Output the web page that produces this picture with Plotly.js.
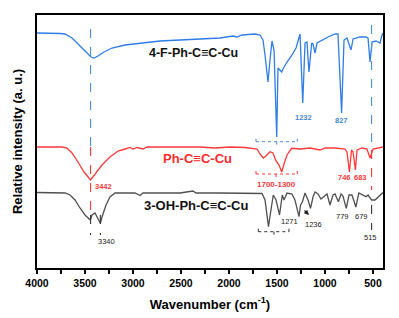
<!DOCTYPE html>
<html>
<head>
<meta charset="utf-8">
<script src="https://cdn.plot.ly/plotly-3.0.1.min.js"></script>
<style>
  html, body { margin: 0; padding: 0; background: #fff; }
  #chart { width: 399px; height: 318px; }
</style>
</head>
<body>
<div id="chart"></div>
<script>
// FTIR spectra, wavenumber (cm-1) vs relative intensity (a. u., offset)
var fWave = [4000, 3865, 3760, 3708, 3635, 3552, 3479, 3437, 3406, 3365, 3302, 3219, 3083, 2927, 2719, 2510,
  2302, 2094, 1958, 1917, 1865, 1729, 1677, 1646, 1625, 1594, 1573, 1560, 1552, 1531, 1503, 1490, 1469, 1451,
  1438, 1396, 1344, 1302, 1260, 1232, 1208, 1188, 1167, 1139, 1125, 1104, 1083, 1031, 969, 896, 865, 827,
  802, 771, 729, 708, 635, 573, 552, 531, 510, 469, 427, 406, 396];
var fInt = [235, 235, 234.5, 234, 230, 222, 215, 211, 210, 212, 216, 220, 223, 225, 227, 228,
  229, 230, 232, 231, 233, 234, 233, 228, 213, 186, 208, 226, 227, 218, 131, 200, 198, 196,
  199, 206, 213, 220, 234, 165, 225, 226, 196, 225, 224, 215, 225, 228, 231, 234, 234, 155,
  228, 230, 218, 229, 231, 231, 230, 206, 226, 227, 225, 233, 235];

var hWave = [4000, 3865, 3740, 3688, 3635, 3573, 3510, 3442, 3396, 3323, 3240, 3156, 3083, 3031, 3000, 2958,
  2896, 2854, 2615, 2302, 2146, 1990, 1833, 1760, 1708, 1677, 1643, 1615, 1573, 1542, 1510, 1479, 1451,
  1427, 1396, 1347, 1260, 1156, 1052, 1000, 896, 792, 771, 746, 724, 708, 683, 667, 615, 563, 531, 500,
  448, 396];
var hInt = [121, 121, 121, 120, 115, 106, 96, 88, 94, 103, 111, 117, 119, 120.5, 119, 120.5,
  119, 121, 121, 121, 120, 121, 120.5, 120, 119, 114, 110, 112, 116.3, 115, 107, 103, 96,
  104, 113, 119.7, 119, 120, 118, 120, 120, 119, 116, 96, 118, 116, 98, 118, 120, 119, 110, 119,
  120, 121];

var oWave = [4000, 3812, 3708, 3656, 3604, 3552, 3500, 3445, 3427, 3396, 3375, 3340, 3323, 3281, 3240, 3187,
  3083, 2979, 2927, 2896, 2719, 2510, 2375, 2344, 2094, 1885, 1729, 1656, 1625, 1589, 1563, 1539, 1510,
  1474, 1445, 1427, 1396, 1344, 1313, 1271, 1255, 1236, 1208, 1177, 1151, 1125, 1104, 1073, 1042, 1010,
  979, 948, 917, 896, 861, 833, 813, 779, 750, 719, 679, 648, 615, 573, 552, 515, 479, 438, 396];
var oInt = [75.5, 75.5, 75, 73, 68, 60, 53, 48, 53, 55, 51, 44.7, 51, 63, 71, 75,
  75, 75, 72.5, 75, 75, 75, 77, 75, 75, 75, 75, 74.5, 68, 41.3, 58, 73, 68,
  53, 73, 68, 75, 74, 68, 51.3, 63, 66, 75, 68, 59.7, 71, 76, 74, 69, 72,
  74, 63, 73, 74, 66.3, 74, 72, 59.7, 73, 73, 61, 75, 73, 71.3, 73, 68, 68, 72, 75.5];

var names = ["4-F-Ph-C≡C-Cu", "Ph-C≡C-Cu", "3-OH-Ph-C≡C-Cu"];
var colors = ["#2f7de6", "#ff3838", "#505050"];
var tickVals = [4000, 3500, 3000, 2500, 2000, 1500, 1000, 500];
var minorVals = [3750, 3250, 2750, 2250, 1750, 1250, 750];

var fontFam = "Arial, 'Liberation Sans', sans-serif";

function trace(x, y, c, n) {
  return { x: x, y: y, type: "scatter", mode: "lines", name: n,
    line: { color: c, width: 1.3 }, hoverinfo: "none", showlegend: false };
}

var data = [
  trace(fWave, fInt, colors[0], names[0]),
  trace(hWave, hInt, colors[1], names[1]),
  trace(oWave, oInt, colors[2], names[2])
];

// dashed guide lines
function vdash(x, y0, y1, c) {
  return { type: "line", xref: "x", yref: "y", x0: x, x1: x, y0: y0, y1: y1,
    line: { color: c, width: 1.1, dash: "dash" } };
}
function seg(x0, y0, x1, y1, c) {
  return { type: "line", xref: "x", yref: "y", x0: x0, x1: x1, y0: y0, y1: y1,
    line: { color: c, width: 1, dash: "dot" } };
}
function bracket(xa, xb, xm, y, up, down, c) {
  return [
    seg(xa, y, xb, y, c),
    seg(xa, y, xa, y + up, c),
    seg(xb, y, xb, y + up, c),
    seg(xm, y, xm, y - down, c)
  ];
}

var shapes = [
  vdash(3442, 239, 121, "#4a8fdc"),
  vdash(3442, 121, 53, "#ff3838"),
  vdash(3442, 53, 33, "#333"),
  vdash(3340, 53, 33, "#333"),
  vdash(515, 243, 118, "#4a8fdc"),
  vdash(515, 118, 78, "#ff3838"),
  vdash(515, 63, 38, "#333")
].concat(
  bracket(1719, 1289, 1503, 126.3, 4.5, 3, "#4a8fdc"),
  bracket(1719, 1289, 1510, 94, 3.3, 3, "#ff3838"),
  bracket(1695, 1375, 1531, 36.3, 3.4, 3, "#333")
);

function lab(x, y, t, c, s, b) {
  return { x: x, y: y, xref: "x", yref: "y", text: b ? "<b>" + t + "</b>" : t, showarrow: false,
    xanchor: "center", yanchor: "middle", font: { family: fontFam, size: s, color: c } };
}

var annotations = [
  lab(2375, 215, names[0], "#111", 12.5, true),
  lab(2328, 109.7, names[1], "#ff2a2a", 13, true),
  lab(2344, 63, names[2], "#111", 13, true),
  lab(1229, 151, "1232", "#4a86d0", 7.5, true),
  lab(826, 148, "827", "#4a86d0", 7.5, true),
  lab(3312, 81.3, "3442", "#ff3838", 7.5, true),
  lab(1510, 84, "1700-1300", "#ff3838", 8, true),
  lab(797, 90.3, "746", "#ff3838", 7.5, true),
  lab(635, 90.3, "683", "#ff3838", 7.5, true),
  lab(3274, 27, "3340", "#222", 7.5, false),
  lab(1365, 46.3, "1271", "#222", 7.5, false),
  lab(1122, 44, "1236", "#222", 7.5, false),
  lab(816, 52, "779", "#222", 7.5, false),
  lab(618, 52, "679", "#222", 7.5, false),
  lab(531, 30.7, "515", "#222", 7.5, false),
  { x: 1167, y: 53, xref: "x", yref: "y", ax: -6, ay: -6, text: "", showarrow: true,
    arrowhead: 2, arrowsize: 0.9, arrowwidth: 1.1, arrowcolor: "#222" }
];

var layout = {
  width: 399,
  height: 318,
  margin: { l: 37, r: 16, t: 15, b: 50 },
  paper_bgcolor: "#fff",
  plot_bgcolor: "#fff",
  font: { family: fontFam, color: "#000" },
  showlegend: false,
  xaxis: {
    range: [4000, 396],
    tickvals: tickVals,
    ticktext: tickVals.map(function (v) { return "<b>" + v + "</b>"; }),
    ticks: "outside", ticklen: 4, tickwidth: 1.5, tickcolor: "#000",
    minor: { tickvals: minorVals, ticks: "outside", ticklen: 4, tickwidth: 1.5, tickcolor: "#000" },
    tickfont: { size: 10.5, color: "#000" },
    showline: true, linewidth: 2, linecolor: "#000", mirror: true,
    showgrid: false, zeroline: false,
    title: { text: "<b>Wavenumber (cm<sup>-1</sup>)</b>", font: { size: 13, color: "#000" }, standoff: 12 }
  },
  yaxis: {
    range: [0, 253],
    showticklabels: false, ticks: "",
    showline: true, linewidth: 2, linecolor: "#000", mirror: true,
    showgrid: false, zeroline: false,
    title: { text: "<b>Relative intensity (a. u.)</b>", font: { size: 13, color: "#000" }, standoff: 9 }
  },
  shapes: shapes,
  annotations: annotations
};

Plotly.newPlot("chart", data, layout, { displayModeBar: false, staticPlot: true });
</script>
</body>
</html>
